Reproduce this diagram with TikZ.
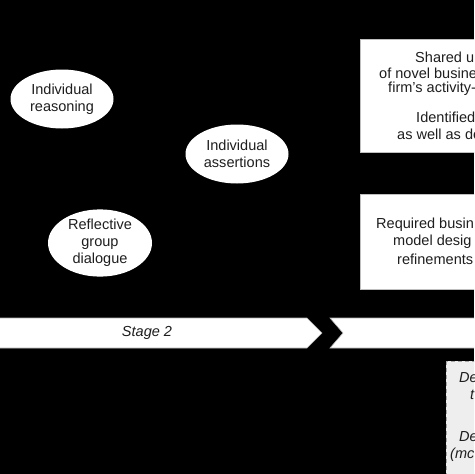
\documentclass[tikz,border=0pt]{standalone}
\usepackage{fontspec}
\setmainfont{Liberation Sans}
\usepackage{tikz}
\usetikzlibrary{shapes.geometric}
\definecolor{inkgray}{RGB}{30,30,30}
\definecolor{notefill}{RGB}{238,238,238}

\begin{document}
\begin{tikzpicture}[
    x=0.03cm, y=-0.03cm,
    idea/.style={ellipse, fill=white, minimum width=103*0.03cm, minimum height=59*0.03cm, inner sep=0pt, align=center, text=inkgray, font=\fontsize{12.4}{14.5}\selectfont},
    outcome/.style={rectangle, fill=white, draw=gray!50, line width=0.4pt},
    line/.style={anchor=west, inner sep=0pt, text=inkgray, font=\fontsize{12.4}{14.5}\selectfont},
    noteline/.style={line, font=\fontsize{12.4}{14.5}\selectfont\itshape},
    stagebar/.style={fill=white, draw=gray!60, line width=0.5pt},
    note/.style={fill=notefill, draw=gray!70, dashed, line width=0.8pt}
]
    \clip (0,0) rectangle (474,474);
    \fill[black] (0,0) rectangle (474,474);

    % individual and group reflection
    \node[idea] (reason) at (62,99) {Individual\\reasoning};
    \node[idea] (assert) at (237,154) {Individual\\assertions};
    \node[idea, minimum width=104*0.03cm, minimum height=60*0.03cm] (dialog) at (100,243) {Reflective\\group\\dialogue};

    % outcomes
    \draw[outcome] (360,39) rectangle (490,152);
    \node[line] (sh1) at (415,57) {Shared u};
    \node[line] (sh2) at (379,73) {of novel busine};
    \node[line] (sh3) at (388,89) {firm's activity-};
    \node[line] (id1) at (416,117) {Identified};
    \node[line] (id2) at (397,134) {as well as de};

    \draw[outcome] (360,194) rectangle (490,289);
    \node[line] (rq1) at (376,225) {Required busin};
    \node[line] (rq2) at (393,242) {model desig};
    \node[line] (rq3) at (397,259) {refinements};

    % stages
    \draw[stagebar] (-5,318) -- (307,318) -- (322,333) -- (307,348) -- (-5,348) -- cycle;
    \draw[stagebar] (330,318) -- (490,318) -- (490,348) -- (330,348) -- (343,333) -- cycle;
    \node[font=\fontsize{12.4}{14.5}\selectfont\itshape, text=inkgray] (stage2) at (147,333) {Stage 2};

    % deliverables
    \draw[note] (446,361) rectangle (490,490);
    \node[noteline] (de1) at (459,378) {De};
    \node[noteline] (de2) at (470,395) {t};
    \node[noteline] (de3) at (459,437) {De};
    \node[noteline] (de4) at (450,455) {(mc};
\end{tikzpicture}
\end{document}
